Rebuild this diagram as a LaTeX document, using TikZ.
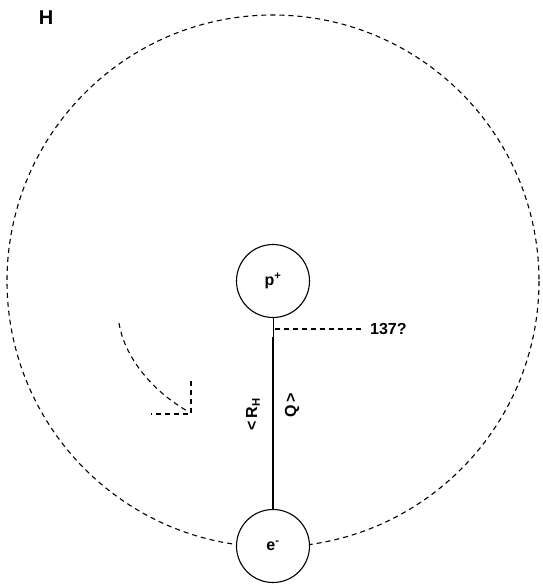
\documentclass[tikz,border=0pt]{standalone}
\usepackage{fontspec}
\setmainfont{Liberation Sans}
\begin{document}
\begin{tikzpicture}[x=1pt,y=-1pt,
  particle/.style={circle,draw,line width=1.1pt,fill=white,minimum size=73pt,inner sep=0pt,font=\bfseries\fontsize{16}{16}\selectfont},
  dsh/.style={dash pattern=on 5pt off 4pt,line width=1.1pt},
  lbl/.style={font=\bfseries\fontsize{16}{16}\selectfont,inner sep=0pt}]
\useasboundingbox (0,0) rectangle (543,587);
\coordinate (pc) at (273,281);
\draw[dsh] (pc) circle (266);
\node[particle] (p) at (273,281) {p\textsuperscript{+}};
\node[particle] (e) at (273,546) {e\textsuperscript{-}};
\node[font=\bfseries\fontsize{20}{20}\selectfont,inner sep=0pt] (h) at (46,18) {H};
% rod
\coordinate (t) at (273,337);
\draw[line width=0.8pt] (p.south) -- (t);
\draw[line width=2pt] (t) -- (e.north);
% 137?
\coordinate (d1) at (275,329);
\node[lbl,anchor=west] (num) at (370,329) {137?};
\draw[dsh] (d1) -- ([xshift=-6pt]num.west);
% labels
\node[lbl,rotate=90] (rh) at (253,414) {<\,R\textsubscript{H}};
\node[lbl,rotate=90] (q) at (292,405) {Q\,>};
% circular arrow
\coordinate (a0) at (119,323);
\coordinate (a1) at (189,412);
\coordinate (ah) at (191,414);
\coordinate (av) at (191,381);
\coordinate (ahz) at (151,414);
\draw[dsh] (a0) .. controls (124,355) and (150,390) .. (a1);
\draw[dsh] (av) -- (ah) -- (ahz);
\end{tikzpicture}
\end{document}
